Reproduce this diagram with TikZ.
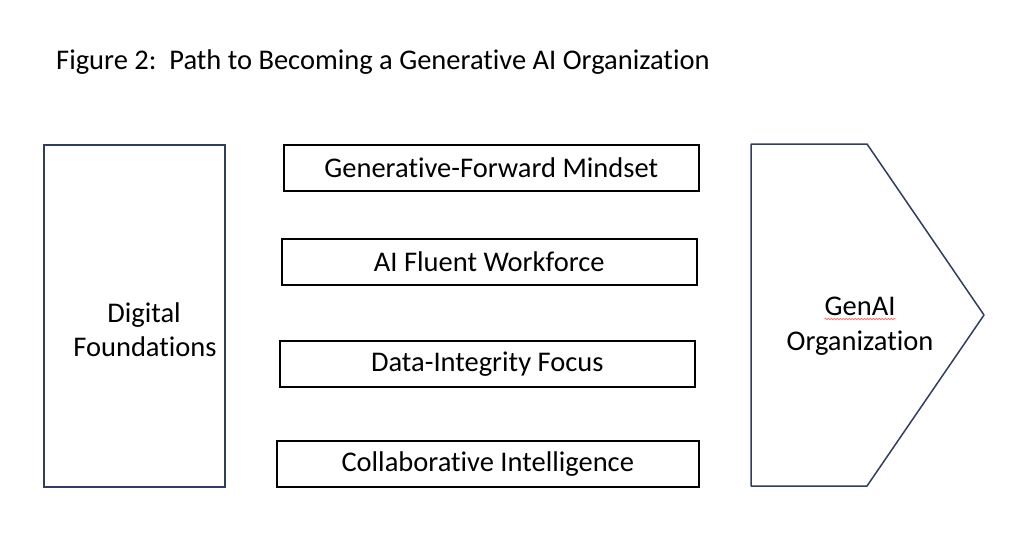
\documentclass[tikz,border=0pt]{standalone}
\usepackage{fontspec}
\setmainfont{Carlito}[Ligatures=CommonOff]
\usetikzlibrary{positioning}
\usetikzlibrary{decorations.pathmorphing}
\definecolor{navy}{RGB}{47,62,96}

\begin{document}
\begin{tikzpicture}
[x=1pt,y=-1pt,%
  every node/.style={inner sep=0pt,font=\fontsize{28.5}{34}\selectfont},%
  pillar/.style={draw=black,line width=1.5pt,minimum height=46pt,anchor=north west},%
  frame/.style={draw=navy,line width=1.5pt},%
  label/.style={anchor=base}]
\useasboundingbox (0,0) rectangle (1024,538);
\node[anchor=base west] (title) at (56,69) {Figure 2:\ \ Path to Becoming a Generative AI Organization};
% foundations
\node[frame,anchor=north west,minimum width=181pt,minimum height=342pt] (found) at (43,144) {};
\node[label] (digital) at (144,322) {Digital};
\node[label] (foundations) at (145,356) {Foundations};
% pillars
\node[pillar,minimum width=415pt] (mind) at (283,144) {Generative-Forward Mindset};
\node[pillar,minimum width=415pt] (fluent) at (281,238) {AI Fluent Workforce};
\node[pillar,minimum width=415pt] (data) at (279,340) {Data-Integrity Focus};
\node[pillar,minimum width=422pt] (collab) at (276,440) {Collaborative Intelligence};
% goal
\coordinate (g1) at (751,144);
\coordinate (g2) at (867,144);
\coordinate (g3) at (984,315);
\coordinate (g4) at (867,486);
\coordinate (g5) at (751,486);
\draw[frame,line join=round] (g1) -- (g2) -- (g3) -- (g4) -- (g5) -- cycle;
\node[label] (genai) at (860,315) {GenAI};
\node[label] (org) at (860,350) {Organization};
\draw[red!60,line width=0.6pt,decorate,decoration={snake,amplitude=0.8pt,segment length=3pt}]
  ([yshift=-4pt]genai.base west) -- ([yshift=-4pt]genai.base east);
\end{tikzpicture}
\end{document}
